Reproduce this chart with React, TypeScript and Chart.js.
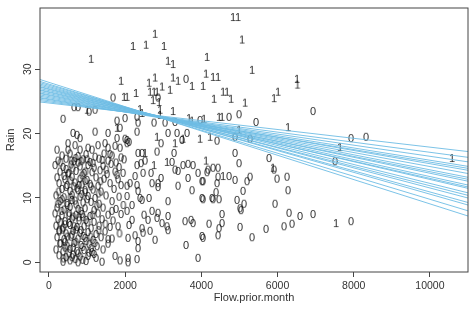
import { useEffect, useRef } from 'react';
import { Chart, registerables } from 'chart.js';

Chart.register(...registerables);

const xTicks = [0, 2000, 4000, 6000, 8000, 10000];
const yTicks = [0, 10, 20, 30];
const xRange = [-236, 11000];
const yRange = [-1.5, 39.5];
const xTitle = 'Flow.prior.month';
const yTitle = 'Rain';

// bootstrap regression lines: Rain = intercept + slope * Flow
const lineIntercepts = [27.95, 27.68, 27.5, 27.31, 27.13, 26.95, 26.85, 26.67, 26.49, 26.39, 26.21, 26.03, 25.92, 25.74, 25.56, 25.38, 25.27, 25.1, 24.92, 24.74];
const lineSlopes = [-0.001887, -0.001789, -0.001691, -0.001638, -0.001558, -0.001469, -0.001495, -0.00138, -0.001317, -0.001335, -0.001237, -0.001166, -0.001184, -0.001086, -0.001024, -0.000952, -0.00097, -0.000863, -0.000783, -0.000685];

// observations labelled "0" : [Flow.prior.month, Rain]
const zeroPoints: [number, number][] = [
  [341, 16.6], [551, 16.9], [761, 16.5], [971, 16.8], [1208, 16.4], [1444, 16.9], [1654, 16.6], [1890, 16.3],
  [236, 15.8], [446, 16.1], [656, 15.7], [893, 16.0], [1076, 15.6], [1313, 16.1], [1549, 15.8], [1759, 15.5], [1969, 16.0],
  [158, 15.1], [368, 14.8], [578, 15.2], [814, 14.9], [1024, 15.1], [1181, 14.7], [1418, 15.0], [1628, 15.3], [1838, 14.8],
  [289, 14.1], [499, 13.8], [709, 14.2], [919, 13.9], [1129, 14.0], [1339, 14.3], [1523, 13.7], [1733, 14.1], [1943, 13.9],
  [210, 13.2], [420, 12.9], [604, 13.3], [814, 13.0], [998, 12.8], [1234, 13.2], [1444, 13.0], [1811, 12.9],
  [263, 12.3], [473, 12.0], [683, 12.4], [866, 12.1], [1076, 12.2], [1286, 11.9], [1601, 12.3], [1890, 12.0],
  [341, 11.4], [551, 11.1], [735, 11.5], [945, 11.2], [1155, 11.3], [1365, 11.0], [1706, 11.4],
  [184, 10.4], [394, 10.1], [604, 10.5], [814, 10.2], [1024, 10.3], [1208, 10.0], [1496, 10.4], [1838, 10.2],
  [289, 9.5], [473, 9.2], [683, 9.6], [893, 9.3], [1103, 9.4], [1313, 9.1], [1654, 9.5],
  [210, 8.5], [394, 8.2], [551, 8.6], [761, 8.3], [945, 8.4], [1181, 8.1], [1418, 8.5], [1759, 8.3],
  [158, 7.6], [341, 7.3], [525, 7.7], [709, 7.4], [866, 7.5], [1076, 7.2], [1286, 7.6], [1549, 7.4], [1890, 7.5],
  [236, 6.7], [420, 6.4], [604, 6.8], [788, 6.5], [971, 6.6], [1181, 6.3], [1391, 6.7], [1680, 6.5],
  [184, 5.7], [368, 5.4], [551, 5.8], [735, 5.5], [919, 5.6], [1103, 5.3], [1313, 5.7], [1601, 5.5], [1811, 5.6],
  [263, 4.8], [446, 4.5], [630, 4.9], [814, 4.6], [1024, 4.7], [1234, 4.4], [1470, 4.8],
  [210, 3.9], [394, 3.6], [578, 4.0], [761, 3.7], [945, 3.8], [1155, 3.5], [1365, 3.9], [1654, 3.7],
  [289, 2.9], [473, 2.6], [656, 3.0], [840, 2.7], [1050, 2.8], [1260, 2.5], [1549, 2.9],
  [184, 2.0], [368, 1.7], [551, 2.1], [735, 1.8], [919, 1.9], [1129, 1.6], [1418, 2.0],
  [263, 1.1], [446, 0.8], [630, 1.2], [814, 0.9], [1024, 1.0], [1234, 0.7], [1733, 1.0],
  [368, 0.1], [551, 0.3], [761, 0.0], [971, 0.2], [1391, 0.1], [1864, 0.3],
  [420, 3.2], [630, 2.3], [840, 5.0], [525, 6.1], [710, 9.0], [900, 7.0], [600, 4.3], [760, 1.4], [480, 8.9], [980, 3.3],
  [350, 5.1], [1100, 2.2], [300, 6.2], [650, 11.8], [870, 13.5], [560, 12.7], [1000, 9.8], [450, 14.5], [760, 15.5], [1300, 5.0],
  [300, 3.0], [520, 1.4], [690, 0.5], [880, 2.4], [1180, 1.3], [420, 5.9], [640, 7.1], [830, 8.0], [1010, 6.2], [230, 9.1],
  [560, 10.1], [760, 11.2], [950, 12.6], [400, 13.4], [620, 14.6], [850, 15.7], [1150, 15.4], [330, 8.0], [710, 5.1], [900, 4.1],
  [1090, 4.0], [480, 4.0], [270, 5.0], [600, 9.7], [780, 7.0], [1250, 8.8], [1350, 12.6], [1100, 11.8], [520, 13.9], [300, 15.5],
  [700, 16.2], [950, 10.9], [1480, 6.0], [1650, 8.0], [1550, 3.6], [1850, 4.5], [1950, 8.9], [1780, 13.6], [1500, 14.4], [1200, 3.0],
  [450, 11.7], [250, 11.0], [380, 0.6], [600, 0.8], [880, 0.4], [1050, 1.5], [700, 3.2], [520, 7.3], [960, 14.1], [1300, 10.7],
  [340, 9.8], [860, 10.6], [660, 5.6], [1140, 7.4], [420, 2.3], [790, 12.0], [1000, 16.0], [590, 15.8], [1400, 15.9], [1600, 16.8],
  [3596, 28.5], [4725, 22.6], [4988, 23.0], [5434, 21.8], [6930, 23.5], [7508, 15.7], [7928, 19.3], [8321, 19.5],
  [7928, 6.4], [6930, 7.5], [6589, 7.2], [6300, 7.7], [6379, 6.0], [6169, 5.6], [5696, 5.2], [5329, 3.9], [5014, 5.5],
  [5933, 9.1], [6274, 11.2], [6248, 13.3], [5985, 13.0], [5906, 14.4], [5119, 9.1], [5014, 8.4], [5093, 11.1], [5198, 12.6],
  [5276, 13.3], [5775, 16.2], [5276, 19.2], [4883, 17.0], [4410, 18.9], [4148, 14.0], [4305, 14.7], [4436, 14.7], [4988, 15.4],
  [4725, 13.4], [4436, 13.3], [4410, 12.3], [4043, 12.6], [4883, 12.8], [4384, 10.9], [4043, 9.8], [4305, 9.8], [4463, 9.8],
  [4935, 9.7], [5040, 8.1], [4541, 7.5], [4200, 6.0], [4541, 6.1], [4463, 5.3], [4436, 4.2], [4043, 3.8], [4883, 19.5],
  [2310, 15.1], [2415, 15.4], [2520, 15.8], [3229, 15.6], [3308, 14.4], [3386, 14.2], [3518, 15.1], [3649, 15.3], [3780, 15.1],
  [4174, 14.4], [3911, 13.9], [3649, 13.1], [4016, 12.6], [3386, 11.9], [3754, 11.2], [3124, 9.5], [2704, 12.3], [2861, 12.3],
  [2940, 13.1], [2861, 11.7], [2678, 13.9], [2468, 13.9], [2258, 13.4], [2310, 12.0], [2126, 12.3], [2048, 11.9], [2336, 11.1],
  [2389, 10.0], [2441, 9.7], [2048, 10.3], [2625, 10.0], [2179, 8.9], [2048, 8.0], [2494, 7.4], [2704, 8.0], [2861, 7.7],
  [2835, 6.9], [3124, 7.2], [2599, 6.6], [2966, 6.1], [3098, 5.6], [3124, 5.0], [2179, 6.6], [2100, 5.8], [2441, 5.3],
  [2651, 4.9], [2468, 4.6], [2783, 3.5], [2258, 4.2], [2336, 3.3], [2336, 2.2], [2074, 3.8], [3570, 6.4], [3728, 6.6],
  [3780, 6.1], [4016, 4.1], [4016, 10.0], [4279, 10.0], [3596, 2.7], [3911, 0.7], [2074, 0.7], [2310, 0.5], [2074, 0.0],
  [2861, 25.6], [2336, 21.7], [2756, 21.7], [3045, 21.7], [3308, 21.8], [3964, 22.1], [2310, 20.3], [3124, 20.1], [3360, 20.1],
  [3623, 20.1], [3491, 19.0], [2940, 18.5], [2048, 19.0], [2100, 18.7], [2336, 17.0], [2441, 17.0], [2835, 17.2], [3281, 17.0],
  [1680, 25.6], [1785, 22.0], [1995, 22.4], [2310, 22.6], [1864, 20.9], [368, 22.3], [656, 24.1], [761, 24.1], [1050, 23.4],
  [1208, 23.7], [630, 20.1], [735, 19.8], [814, 19.3], [1208, 20.3], [1549, 20.1], [1785, 19.3], [1995, 19.2], [210, 17.5],
  [499, 18.5], [683, 18.2], [499, 17.5], [814, 17.5], [1024, 17.8], [1129, 17.5], [1286, 18.2], [1470, 18.5], [1549, 17.8],
  [1733, 18.1], [1864, 17.8], [2048, 18.5],
];

// observations labelled "1" : [Flow.prior.month, Rain]
const onePoints: [number, number][] = [
  [2783, 35.5], [2205, 33.6], [2546, 33.8], [3019, 33.6], [1103, 31.6], [3124, 31.3], [3255, 30.8], [4148, 31.9],
  [4830, 38.1], [4961, 38.1], [5066, 34.6], [5329, 29.9], [6510, 28.5], [6520, 27.6], [4121, 29.3], [4305, 28.8],
  [4436, 28.8], [1890, 28.2], [2783, 28.7], [2625, 27.9], [3255, 28.7], [3386, 28.2], [3754, 27.4], [4043, 27.4],
  [4568, 26.5], [4673, 26.5], [4331, 25.4], [4778, 25.4], [5145, 24.8], [6011, 26.5], [5906, 25.5], [1969, 25.7],
  [2048, 25.7], [2284, 26.3], [2651, 26.5], [2756, 26.5], [2835, 26.5], [2966, 27.3], [3176, 26.8], [2730, 25.2],
  [2888, 24.9], [2914, 23.7], [2389, 23.8], [3255, 23.5], [4463, 22.6], [4541, 22.6], [3675, 22.4], [3754, 22.0],
  [4069, 22.3], [1785, 20.9], [998, 23.7], [2835, 19.5], [3518, 19.2], [3964, 19.2], [4226, 19.5], [4988, 20.6],
  [6274, 21.0], [5880, 14.7], [4121, 15.8], [2756, 15.1], [3098, 15.6], [3308, 18.5], [7639, 17.9], [10579, 16.2],
  [7534, 6.1], [4568, 13.4], [2441, 23.2], [2914, 22.9], [2520, 17.0],
];

const FONT = '"Liberation Sans", Arial, sans-serif';

function glyph(text: string): HTMLCanvasElement {
  const c = document.createElement('canvas');
  c.width = 12;
  c.height = 14;
  const ctx = c.getContext('2d')!;
  ctx.font = `11px ${FONT}`;
  ctx.fillStyle = 'rgba(0,0,0,0.85)';
  ctx.textAlign = 'center';
  ctx.textBaseline = 'alphabetic';
  ctx.fillText(text, 6, 11);
  return c;
}

const framePlugin = {
  id: 'frame',
  afterDatasetsDraw(chart: any) {
    const { ctx, chartArea } = chart;
    ctx.save();
    ctx.strokeStyle = '#444';
    ctx.lineWidth = 1;
    ctx.strokeRect(chartArea.left, chartArea.top, chartArea.right - chartArea.left, chartArea.bottom - chartArea.top);
    ctx.restore();
  },
};

export default function App() {
  const ref = useRef<HTMLCanvasElement>(null);

  useEffect(() => {
    document.body.style.margin = '0';
    const zeroGlyph = glyph('0');
    const oneGlyph = glyph('1');

    const lineSets = lineIntercepts.map((a, i) => ({
      type: 'scatter' as const,
      data: [
        { x: xRange[0], y: a + lineSlopes[i] * xRange[0] },
        { x: xRange[1], y: a + lineSlopes[i] * xRange[1] },
      ],
      showLine: true,
      borderColor: 'rgba(110,188,228,0.9)',
      borderWidth: 1,
      pointRadius: 0,
      order: 0,
    }));

    const chart = new Chart(ref.current!, {
      type: 'scatter',
      data: {
        datasets: [
          ...lineSets,
          {
            data: zeroPoints.map(([x, y]) => ({ x, y })),
            pointStyle: zeroGlyph as any,
            pointRadius: 3,
            order: 1,
          },
          {
            data: onePoints.map(([x, y]) => ({ x, y })),
            pointStyle: oneGlyph as any,
            pointRadius: 3,
            order: 1,
          },
        ] as any,
      },
      options: {
        animation: false,
        responsive: false,
        devicePixelRatio: 1,
        layout: { padding: { top: 8, right: 6, left: 0, bottom: 0 } },
        plugins: { legend: { display: false }, tooltip: { enabled: false } },
        scales: {
          x: {
            type: 'linear',
            min: xRange[0],
            max: xRange[1],
            afterBuildTicks: (s: any) => { s.ticks = xTicks.map((v) => ({ value: v })); },
            afterFit: (s: any) => { s.height = 38; },
            grid: { drawOnChartArea: false, drawTicks: true, tickLength: 5, tickColor: '#444' },
            border: { display: false },
            ticks: { font: { size: 10.5, family: FONT }, color: '#333', padding: 3, maxRotation: 0, autoSkip: false, callback: (v: any) => String(v) },
            title: { display: true, text: xTitle, font: { size: 11, family: FONT }, color: '#333', padding: { top: 0, bottom: 5 } },
          },
          y: {
            type: 'linear',
            min: yRange[0],
            max: yRange[1],
            afterBuildTicks: (s: any) => { s.ticks = yTicks.map((v) => ({ value: v })); },
            afterFit: (s: any) => { s.width = 40; },
            grid: { drawOnChartArea: false, drawTicks: true, tickLength: 5, tickColor: '#444' },
            border: { display: false },
            ticks: { font: { size: 10.5, family: FONT }, color: '#333', padding: 1.5, minRotation: 90, maxRotation: 90, crossAlign: 'center', autoSkip: false, callback: (v: any) => String(v) },
            title: { display: true, text: yTitle, font: { size: 11, family: FONT }, color: '#333', padding: { top: 4, bottom: 0 } },
          },
        },
      },
      plugins: [framePlugin],
    });
    return () => chart.destroy();
  }, []);

  return (
    <div style={{ width: 474, height: 310 }}>
      <canvas ref={ref} width={474} height={310} style={{ width: 474, height: 310 }} />
    </div>
  );
}
